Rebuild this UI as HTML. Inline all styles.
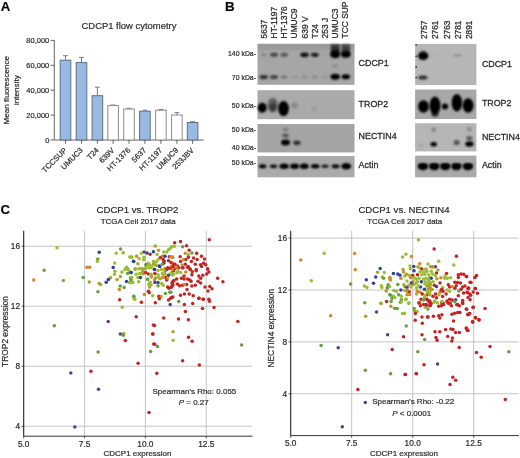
<!DOCTYPE html>
<html><head><meta charset="utf-8"><style>html,body{margin:0;padding:0;background:#fff;width:520px;height:458px;overflow:hidden}svg{display:block;will-change:transform}text{font-family:'Liberation Sans',sans-serif;stroke:#2a2a2a;stroke-width:0.2px}</style></head>
<body><svg width="520" height="458" viewBox="0 0 520 458">
<rect width="520" height="458" fill="#fff"/>
<text x="0.8" y="10.8" font-size="13.2" text-anchor="start" font-weight="bold" fill="#000" >A</text>
<text x="81.5" y="28.8" font-size="9.45" text-anchor="start" font-weight="normal" fill="#2a2a2a" >CDCP1 flow cytometry</text>
<line x1="54.3" y1="40.3" x2="54.3" y2="140.0" stroke="#555" stroke-width="0.9"/>
<line x1="54.3" y1="140.0" x2="203.8" y2="140.0" stroke="#555" stroke-width="0.9"/>
<line x1="50.6" y1="140.00" x2="54.3" y2="140.00" stroke="#555" stroke-width="0.9"/>
<text x="49.3" y="142.7" font-size="7.5" text-anchor="end" font-weight="normal" fill="#2a2a2a" >0</text>
<line x1="50.6" y1="115.10" x2="54.3" y2="115.10" stroke="#555" stroke-width="0.9"/>
<text x="49.3" y="117.8" font-size="7.5" text-anchor="end" font-weight="normal" fill="#2a2a2a" >20,000</text>
<line x1="50.6" y1="90.20" x2="54.3" y2="90.20" stroke="#555" stroke-width="0.9"/>
<text x="49.3" y="92.9" font-size="7.5" text-anchor="end" font-weight="normal" fill="#2a2a2a" >40,000</text>
<line x1="50.6" y1="65.30" x2="54.3" y2="65.30" stroke="#555" stroke-width="0.9"/>
<text x="49.3" y="68.00000000000001" font-size="7.5" text-anchor="end" font-weight="normal" fill="#2a2a2a" >60,000</text>
<line x1="50.6" y1="40.40" x2="54.3" y2="40.40" stroke="#555" stroke-width="0.9"/>
<text x="49.3" y="43.10000000000001" font-size="7.5" text-anchor="end" font-weight="normal" fill="#2a2a2a" >80,000</text>
<line x1="65.5" y1="55.7" x2="65.5" y2="60.2" stroke="#5d6f85" stroke-width="0.9"/>
<line x1="63.1" y1="55.7" x2="67.9" y2="55.7" stroke="#5d6f85" stroke-width="0.9"/>
<rect x="60.20" y="60.2" width="10.6" height="79.80" fill="#98b9e4" stroke="#5d6f85" stroke-width="1"/>
<line x1="65.5" y1="140.0" x2="65.5" y2="143.8" stroke="#555" stroke-width="0.9"/>
<text x="0" y="0" font-size="7.7" text-anchor="end" fill="#2a2a2a" transform="translate(67.4,150.8) rotate(-45)">TCCSUP</text>
<line x1="81.5" y1="57.4" x2="81.5" y2="62.6" stroke="#5d6f85" stroke-width="0.9"/>
<line x1="79.1" y1="57.4" x2="83.9" y2="57.4" stroke="#5d6f85" stroke-width="0.9"/>
<rect x="76.20" y="62.6" width="10.6" height="77.40" fill="#98b9e4" stroke="#5d6f85" stroke-width="1"/>
<line x1="81.5" y1="140.0" x2="81.5" y2="143.8" stroke="#555" stroke-width="0.9"/>
<text x="0" y="0" font-size="7.7" text-anchor="end" fill="#2a2a2a" transform="translate(83.4,150.8) rotate(-45)">UMUC3</text>
<line x1="97.4" y1="87.2" x2="97.4" y2="95.7" stroke="#5d6f85" stroke-width="0.9"/>
<line x1="95.0" y1="87.2" x2="99.80000000000001" y2="87.2" stroke="#5d6f85" stroke-width="0.9"/>
<rect x="92.10" y="95.7" width="10.6" height="44.30" fill="#98b9e4" stroke="#5d6f85" stroke-width="1"/>
<line x1="97.4" y1="140.0" x2="97.4" y2="143.8" stroke="#555" stroke-width="0.9"/>
<text x="0" y="0" font-size="7.7" text-anchor="end" fill="#2a2a2a" transform="translate(99.30000000000001,150.8) rotate(-45)">T24</text>
<line x1="113.1" y1="105.0" x2="113.1" y2="105.6" stroke="#5d6f85" stroke-width="0.9"/>
<line x1="110.69999999999999" y1="105.0" x2="115.5" y2="105.0" stroke="#5d6f85" stroke-width="0.9"/>
<rect x="107.80" y="105.6" width="10.6" height="34.40" fill="#ffffff" stroke="#8a8a8a" stroke-width="1"/>
<line x1="113.1" y1="140.0" x2="113.1" y2="143.8" stroke="#555" stroke-width="0.9"/>
<text x="0" y="0" font-size="7.7" text-anchor="end" fill="#2a2a2a" transform="translate(115.0,150.8) rotate(-45)">639V</text>
<line x1="129.0" y1="108.3" x2="129.0" y2="109.0" stroke="#5d6f85" stroke-width="0.9"/>
<line x1="126.6" y1="108.3" x2="131.4" y2="108.3" stroke="#5d6f85" stroke-width="0.9"/>
<rect x="123.70" y="109.0" width="10.6" height="31.00" fill="#ffffff" stroke="#8a8a8a" stroke-width="1"/>
<line x1="129.0" y1="140.0" x2="129.0" y2="143.8" stroke="#555" stroke-width="0.9"/>
<text x="0" y="0" font-size="7.7" text-anchor="end" fill="#2a2a2a" transform="translate(130.9,150.8) rotate(-45)">HT-1376</text>
<line x1="144.9" y1="110.2" x2="144.9" y2="111.2" stroke="#5d6f85" stroke-width="0.9"/>
<line x1="142.5" y1="110.2" x2="147.3" y2="110.2" stroke="#5d6f85" stroke-width="0.9"/>
<rect x="139.60" y="111.2" width="10.6" height="28.80" fill="#98b9e4" stroke="#5d6f85" stroke-width="1"/>
<line x1="144.9" y1="140.0" x2="144.9" y2="143.8" stroke="#555" stroke-width="0.9"/>
<text x="0" y="0" font-size="7.7" text-anchor="end" fill="#2a2a2a" transform="translate(146.8,150.8) rotate(-45)">5637</text>
<line x1="160.9" y1="109.5" x2="160.9" y2="110.2" stroke="#5d6f85" stroke-width="0.9"/>
<line x1="158.5" y1="109.5" x2="163.3" y2="109.5" stroke="#5d6f85" stroke-width="0.9"/>
<rect x="155.60" y="110.2" width="10.6" height="29.80" fill="#ffffff" stroke="#8a8a8a" stroke-width="1"/>
<line x1="160.9" y1="140.0" x2="160.9" y2="143.8" stroke="#555" stroke-width="0.9"/>
<text x="0" y="0" font-size="7.7" text-anchor="end" fill="#2a2a2a" transform="translate(162.8,150.8) rotate(-45)">HT-1197</text>
<line x1="176.9" y1="112.6" x2="176.9" y2="115.0" stroke="#5d6f85" stroke-width="0.9"/>
<line x1="174.5" y1="112.6" x2="179.3" y2="112.6" stroke="#5d6f85" stroke-width="0.9"/>
<rect x="171.60" y="115.0" width="10.6" height="25.00" fill="#ffffff" stroke="#8a8a8a" stroke-width="1"/>
<line x1="176.9" y1="140.0" x2="176.9" y2="143.8" stroke="#555" stroke-width="0.9"/>
<text x="0" y="0" font-size="7.7" text-anchor="end" fill="#2a2a2a" transform="translate(178.8,150.8) rotate(-45)">UMUC9</text>
<line x1="192.6" y1="121.8" x2="192.6" y2="122.5" stroke="#5d6f85" stroke-width="0.9"/>
<line x1="190.2" y1="121.8" x2="195.0" y2="121.8" stroke="#5d6f85" stroke-width="0.9"/>
<rect x="187.30" y="122.5" width="10.6" height="17.50" fill="#98b9e4" stroke="#5d6f85" stroke-width="1"/>
<line x1="192.6" y1="140.0" x2="192.6" y2="143.8" stroke="#555" stroke-width="0.9"/>
<text x="0" y="0" font-size="7.7" text-anchor="end" fill="#2a2a2a" transform="translate(194.5,150.8) rotate(-45)">253JBV</text>
<text x="0" y="0" font-size="8.1" text-anchor="middle" fill="#2a2a2a" transform="translate(8.9,90.2) rotate(-90)">Mean fluorescence</text>
<text x="0" y="0" font-size="8.1" text-anchor="middle" fill="#2a2a2a" transform="translate(18.6,90.1) rotate(-90)">intensity</text>
<text x="225.0" y="10.6" font-size="13.4" text-anchor="start" font-weight="bold" fill="#000" >B</text>
<text x="0" y="0" font-size="8.4" fill="#2a2a2a" style="stroke-width:0.28px" transform="translate(266.8,38.4) rotate(-90)">5637</text>
<text x="0" y="0" font-size="8.4" fill="#2a2a2a" style="stroke-width:0.28px" transform="translate(277.0,38.4) rotate(-90)">HT-1197</text>
<text x="0" y="0" font-size="8.4" fill="#2a2a2a" style="stroke-width:0.28px" transform="translate(287.2,38.4) rotate(-90)">HT-1376</text>
<text x="0" y="0" font-size="8.4" fill="#2a2a2a" style="stroke-width:0.28px" transform="translate(297.40000000000003,38.4) rotate(-90)">UMUC9</text>
<text x="0" y="0" font-size="8.4" fill="#2a2a2a" style="stroke-width:0.28px" transform="translate(307.6,38.4) rotate(-90)">639 V</text>
<text x="0" y="0" font-size="8.4" fill="#2a2a2a" style="stroke-width:0.28px" transform="translate(317.8,38.4) rotate(-90)">T24</text>
<text x="0" y="0" font-size="8.4" fill="#2a2a2a" style="stroke-width:0.28px" transform="translate(328.0,38.4) rotate(-90)">253 J</text>
<text x="0" y="0" font-size="8.4" fill="#2a2a2a" style="stroke-width:0.28px" transform="translate(338.2,38.4) rotate(-90)">UMUC3</text>
<text x="0" y="0" font-size="8.4" fill="#2a2a2a" style="stroke-width:0.28px" transform="translate(348.4,38.4) rotate(-90)">TCC SUP</text>
<text x="0" y="0" font-size="8.3" fill="#2a2a2a" style="stroke-width:0.28px" transform="translate(426.79999999999995,39) rotate(-90)">2757</text>
<text x="0" y="0" font-size="8.3" fill="#2a2a2a" style="stroke-width:0.28px" transform="translate(438.4,39) rotate(-90)">2761</text>
<text x="0" y="0" font-size="8.3" fill="#2a2a2a" style="stroke-width:0.28px" transform="translate(449.59999999999997,39) rotate(-90)">2763</text>
<text x="0" y="0" font-size="8.3" fill="#2a2a2a" style="stroke-width:0.28px" transform="translate(460.79999999999995,39) rotate(-90)">2781</text>
<text x="0" y="0" font-size="8.3" fill="#2a2a2a" style="stroke-width:0.28px" transform="translate(472.0,39) rotate(-90)">2891</text>
<rect x="257.5" y="43.8" width="97.0" height="41.00" fill="#a6a6a6"/>
<rect x="257.5" y="90.2" width="97.0" height="29.00" fill="#aaaaaa"/>
<rect x="257.5" y="124.0" width="97.0" height="28.40" fill="#a4a4a4"/>
<rect x="257.5" y="156.0" width="97.0" height="21.30" fill="#aaaaaa"/>
<rect x="415.1" y="43.9" width="61.3" height="41.20" fill="#b6b6b6"/>
<rect x="415.1" y="89.5" width="61.3" height="29.50" fill="#a8a8a8"/>
<rect x="415.1" y="123.2" width="61.3" height="28.20" fill="#b6b6b6"/>
<rect x="415.1" y="155.6" width="61.3" height="21.70" fill="#a9a9a9"/>
<text x="256.0" y="56.3" font-size="6.9" text-anchor="end" font-weight="normal" fill="#2a2a2a" >140 kDa-</text>
<text x="256.0" y="80.3" font-size="6.9" text-anchor="end" font-weight="normal" fill="#2a2a2a" >70 kDa-</text>
<text x="256.0" y="108.1" font-size="6.9" text-anchor="end" font-weight="normal" fill="#2a2a2a" >50 kDa-</text>
<text x="256.0" y="132.2" font-size="6.9" text-anchor="end" font-weight="normal" fill="#2a2a2a" >50 kDa-</text>
<text x="256.0" y="150.1" font-size="6.9" text-anchor="end" font-weight="normal" fill="#2a2a2a" >40 kDa-</text>
<text x="256.0" y="164.9" font-size="6.9" text-anchor="end" font-weight="normal" fill="#2a2a2a" >50 kDa-</text>
<text x="358.6" y="66.2" font-size="8.9" text-anchor="start" font-weight="normal" fill="#2a2a2a" style="stroke-width:0.28px">CDCP1</text>
<text x="358.6" y="107.3" font-size="8.9" text-anchor="start" font-weight="normal" fill="#2a2a2a" style="stroke-width:0.28px">TROP2</text>
<text x="358.6" y="138.8" font-size="8.9" text-anchor="start" font-weight="normal" fill="#2a2a2a" style="stroke-width:0.28px">NECTIN4</text>
<text x="358.6" y="168.4" font-size="8.9" text-anchor="start" font-weight="normal" fill="#2a2a2a" style="stroke-width:0.28px">Actin</text>
<text x="481.9" y="67.39999999999999" font-size="8.9" text-anchor="start" font-weight="normal" fill="#2a2a2a" style="stroke-width:0.28px">CDCP1</text>
<text x="481.9" y="106.3" font-size="8.9" text-anchor="start" font-weight="normal" fill="#2a2a2a" style="stroke-width:0.28px">TROP2</text>
<text x="481.9" y="140.10000000000002" font-size="8.9" text-anchor="start" font-weight="normal" fill="#2a2a2a" style="stroke-width:0.28px">NECTIN4</text>
<text x="481.9" y="167.9" font-size="8.9" text-anchor="start" font-weight="normal" fill="#2a2a2a" style="stroke-width:0.28px">Actin</text>
<text x="0.5" y="213.7" font-size="13.2" text-anchor="start" font-weight="bold" fill="#000" >C</text>
<line x1="23.7" y1="246.20" x2="252.0" y2="246.20" stroke="#bdbdbd" stroke-width="0.9"/>
<line x1="21.5" y1="246.20" x2="23.7" y2="246.20" stroke="#444" stroke-width="0.9"/>
<text x="20.099999999999998" y="249.1" font-size="8.3" text-anchor="end" font-weight="normal" fill="#2a2a2a" >16</text>
<line x1="23.7" y1="306.20" x2="252.0" y2="306.20" stroke="#bdbdbd" stroke-width="0.9"/>
<line x1="21.5" y1="306.20" x2="23.7" y2="306.20" stroke="#444" stroke-width="0.9"/>
<text x="20.099999999999998" y="309.09999999999997" font-size="8.3" text-anchor="end" font-weight="normal" fill="#2a2a2a" >12</text>
<line x1="23.7" y1="366.20" x2="252.0" y2="366.20" stroke="#bdbdbd" stroke-width="0.9"/>
<line x1="21.5" y1="366.20" x2="23.7" y2="366.20" stroke="#444" stroke-width="0.9"/>
<text x="20.099999999999998" y="369.09999999999997" font-size="8.3" text-anchor="end" font-weight="normal" fill="#2a2a2a" >8</text>
<line x1="23.7" y1="426.20" x2="252.0" y2="426.20" stroke="#bdbdbd" stroke-width="0.9"/>
<line x1="21.5" y1="426.20" x2="23.7" y2="426.20" stroke="#444" stroke-width="0.9"/>
<text x="20.099999999999998" y="429.09999999999997" font-size="8.3" text-anchor="end" font-weight="normal" fill="#2a2a2a" >4</text>
<line x1="23.70" y1="436.2" x2="23.70" y2="438.4" stroke="#444" stroke-width="0.9"/>
<text x="23.7" y="446.5" font-size="8.3" text-anchor="middle" font-weight="normal" fill="#2a2a2a" >5.0</text>
<line x1="84.55" y1="230.8" x2="84.55" y2="436.2" stroke="#bdbdbd" stroke-width="0.9"/>
<line x1="84.55" y1="436.2" x2="84.55" y2="438.4" stroke="#444" stroke-width="0.9"/>
<text x="84.55" y="446.5" font-size="8.3" text-anchor="middle" font-weight="normal" fill="#2a2a2a" >7.5</text>
<line x1="145.40" y1="230.8" x2="145.40" y2="436.2" stroke="#bdbdbd" stroke-width="0.9"/>
<line x1="145.40" y1="436.2" x2="145.40" y2="438.4" stroke="#444" stroke-width="0.9"/>
<text x="145.4" y="446.5" font-size="8.3" text-anchor="middle" font-weight="normal" fill="#2a2a2a" >10.0</text>
<line x1="206.25" y1="230.8" x2="206.25" y2="436.2" stroke="#bdbdbd" stroke-width="0.9"/>
<line x1="206.25" y1="436.2" x2="206.25" y2="438.4" stroke="#444" stroke-width="0.9"/>
<text x="206.25" y="446.5" font-size="8.3" text-anchor="middle" font-weight="normal" fill="#2a2a2a" >12.5</text>
<line x1="23.7" y1="230.8" x2="23.7" y2="436.2" stroke="#222" stroke-width="1.1"/>
<line x1="23.7" y1="436.2" x2="252.5" y2="436.2" stroke="#333" stroke-width="1.0"/>
<text x="137.5" y="213.3" font-size="9.6" text-anchor="middle" font-weight="normal" fill="#2a2a2a" >CDCP1 vs. TROP2</text>
<text x="138.2" y="224.4" font-size="7.95" text-anchor="middle" font-weight="normal" fill="#2a2a2a" >TCGA Cell 2017 data</text>
<text x="137.5" y="456.3" font-size="8.0" text-anchor="middle" font-weight="normal" fill="#2a2a2a" >CDCP1 expression</text>
<text x="0" y="0" font-size="8.4" text-anchor="middle" fill="#2a2a2a" transform="translate(8.2,331.5) rotate(-90)">TROP2 expression</text>
<line x1="290.7" y1="238.10" x2="518.5" y2="238.10" stroke="#bdbdbd" stroke-width="0.9"/>
<line x1="288.5" y1="238.10" x2="290.7" y2="238.10" stroke="#444" stroke-width="0.9"/>
<text x="287.09999999999997" y="241.0" font-size="8.3" text-anchor="end" font-weight="normal" fill="#2a2a2a" >16</text>
<line x1="290.7" y1="289.98" x2="518.5" y2="289.98" stroke="#bdbdbd" stroke-width="0.9"/>
<line x1="288.5" y1="289.98" x2="290.7" y2="289.98" stroke="#444" stroke-width="0.9"/>
<text x="287.09999999999997" y="292.88" font-size="8.3" text-anchor="end" font-weight="normal" fill="#2a2a2a" >12</text>
<line x1="290.7" y1="341.86" x2="518.5" y2="341.86" stroke="#bdbdbd" stroke-width="0.9"/>
<line x1="288.5" y1="341.86" x2="290.7" y2="341.86" stroke="#444" stroke-width="0.9"/>
<text x="287.09999999999997" y="344.76" font-size="8.3" text-anchor="end" font-weight="normal" fill="#2a2a2a" >8</text>
<line x1="290.7" y1="393.74" x2="518.5" y2="393.74" stroke="#bdbdbd" stroke-width="0.9"/>
<line x1="288.5" y1="393.74" x2="290.7" y2="393.74" stroke="#444" stroke-width="0.9"/>
<text x="287.09999999999997" y="396.64" font-size="8.3" text-anchor="end" font-weight="normal" fill="#2a2a2a" >4</text>
<line x1="290.70" y1="435.6" x2="290.70" y2="437.8" stroke="#444" stroke-width="0.9"/>
<text x="290.7" y="445.90000000000003" font-size="8.3" text-anchor="middle" font-weight="normal" fill="#2a2a2a" >5.0</text>
<line x1="351.70" y1="230.8" x2="351.70" y2="435.6" stroke="#bdbdbd" stroke-width="0.9"/>
<line x1="351.70" y1="435.6" x2="351.70" y2="437.8" stroke="#444" stroke-width="0.9"/>
<text x="351.7" y="445.90000000000003" font-size="8.3" text-anchor="middle" font-weight="normal" fill="#2a2a2a" >7.5</text>
<line x1="412.70" y1="230.8" x2="412.70" y2="435.6" stroke="#bdbdbd" stroke-width="0.9"/>
<line x1="412.70" y1="435.6" x2="412.70" y2="437.8" stroke="#444" stroke-width="0.9"/>
<text x="412.7" y="445.90000000000003" font-size="8.3" text-anchor="middle" font-weight="normal" fill="#2a2a2a" >10.0</text>
<line x1="473.70" y1="230.8" x2="473.70" y2="435.6" stroke="#bdbdbd" stroke-width="0.9"/>
<line x1="473.70" y1="435.6" x2="473.70" y2="437.8" stroke="#444" stroke-width="0.9"/>
<text x="473.7" y="445.90000000000003" font-size="8.3" text-anchor="middle" font-weight="normal" fill="#2a2a2a" >12.5</text>
<line x1="290.7" y1="230.8" x2="290.7" y2="435.6" stroke="#222" stroke-width="1.1"/>
<line x1="290.7" y1="435.6" x2="519.0" y2="435.6" stroke="#333" stroke-width="1.0"/>
<text x="404.0" y="213.3" font-size="9.6" text-anchor="middle" font-weight="normal" fill="#2a2a2a" >CDCP1 vs. NECTIN4</text>
<text x="404.7" y="224.4" font-size="7.95" text-anchor="middle" font-weight="normal" fill="#2a2a2a" >TCGA Cell 2017 data</text>
<text x="404.0" y="456.3" font-size="8.0" text-anchor="middle" font-weight="normal" fill="#2a2a2a" >CDCP1 expression</text>
<text x="0" y="0" font-size="8.4" text-anchor="middle" fill="#2a2a2a" transform="translate(274.0,328.2) rotate(-90)">NECTIN4 expression</text>
<text x="194.4" y="394.0" font-size="8.0" text-anchor="middle" font-weight="normal" fill="#2a2a2a" >Spearman's Rho: 0.055</text>
<text x="193.7" y="404.8" font-size="8.0" text-anchor="middle" fill="#2a2a2a"><tspan font-style="italic">P</tspan> = 0.27</text>
<text x="413.2" y="403.6" font-size="8.0" text-anchor="middle" font-weight="normal" fill="#2a2a2a" >Spearman's Rho: -0.22</text>
<text x="411.7" y="415.5" font-size="8.0" text-anchor="middle" fill="#2a2a2a"><tspan font-style="italic">P</tspan> &lt; 0.0001</text>
<defs><filter id="bl" x="-50%" y="-50%" width="200%" height="200%"><feGaussianBlur stdDeviation="0.9"/></filter><filter id="bl2" x="-50%" y="-50%" width="200%" height="200%"><feGaussianBlur stdDeviation="1.6"/></filter><linearGradient id="smear" x1="0" y1="0" x2="0" y2="1"><stop offset="0" stop-color="#000" stop-opacity="0.55"/><stop offset="1" stop-color="#000" stop-opacity="0.9"/></linearGradient></defs>
<rect x="257.5" y="43.8" width="97" height="6" fill="#000" opacity="0.07" filter="url(#bl)"/>
<ellipse cx="263.7" cy="54.8" rx="3.25" ry="1.25" fill="#000" fill-opacity="0.2" filter="url(#bl)"/>
<ellipse cx="274.0" cy="54.8" rx="4.00" ry="2.25" fill="#000" fill-opacity="0.55" filter="url(#bl)"/>
<ellipse cx="284.2" cy="54.8" rx="3.75" ry="2.00" fill="#000" fill-opacity="0.48" filter="url(#bl)"/>
<ellipse cx="304.5" cy="54.8" rx="4.25" ry="2.40" fill="#000" fill-opacity="0.9" filter="url(#bl)"/>
<ellipse cx="314.8" cy="54.8" rx="4.00" ry="2.15" fill="#000" fill-opacity="0.85" filter="url(#bl)"/>
<ellipse cx="325.0" cy="54.8" rx="2.50" ry="1.00" fill="#000" fill-opacity="0.08" filter="url(#bl)"/>
<rect x="330.8" y="44.2" width="8.8" height="10" fill="url(#smear)" filter="url(#bl)" opacity="1"/>
<rect x="341.6" y="44.2" width="8.4" height="10" fill="url(#smear)" filter="url(#bl)" opacity="0.85"/>
<ellipse cx="335.2" cy="54.6" rx="5.00" ry="3.75" fill="#000" fill-opacity="1.0" filter="url(#bl)"/>
<ellipse cx="345.8" cy="54.6" rx="4.75" ry="3.25" fill="#000" fill-opacity="1.0" filter="url(#bl)"/>
<ellipse cx="335.2" cy="66.0" rx="3.00" ry="1.25" fill="#000" fill-opacity="0.22" filter="url(#bl)"/>
<ellipse cx="263.7" cy="77.1" rx="4.25" ry="2.15" fill="#000" fill-opacity="0.72" filter="url(#bl)"/>
<ellipse cx="274.0" cy="77.1" rx="4.25" ry="2.10" fill="#000" fill-opacity="0.6" filter="url(#bl)"/>
<ellipse cx="284.2" cy="77.1" rx="3.25" ry="1.50" fill="#000" fill-opacity="0.3" filter="url(#bl)"/>
<ellipse cx="294.6" cy="77.1" rx="3.00" ry="1.25" fill="#000" fill-opacity="0.12" filter="url(#bl)"/>
<ellipse cx="304.5" cy="77.1" rx="3.00" ry="1.25" fill="#000" fill-opacity="0.18" filter="url(#bl)"/>
<ellipse cx="314.8" cy="77.1" rx="3.00" ry="1.25" fill="#000" fill-opacity="0.22" filter="url(#bl)"/>
<ellipse cx="325.0" cy="77.1" rx="3.00" ry="1.25" fill="#000" fill-opacity="0.14" filter="url(#bl)"/>
<ellipse cx="335.2" cy="76.8" rx="4.75" ry="3.00" fill="#000" fill-opacity="1.0" filter="url(#bl)"/>
<ellipse cx="345.8" cy="76.8" rx="4.25" ry="2.50" fill="#000" fill-opacity="1.0" filter="url(#bl)"/>
<ellipse cx="262.2" cy="107.8" rx="4.50" ry="5.00" fill="#000" fill-opacity="1.0" filter="url(#bl)"/>
<ellipse cx="272.8" cy="105.2" rx="5.0" ry="7.2" fill="#000" fill-opacity="0.5" filter="url(#bl2)"/>
<ellipse cx="272.8" cy="107.5" rx="3.25" ry="3.75" fill="#000" fill-opacity="0.35" filter="url(#bl)"/>
<ellipse cx="283.5" cy="108.6" rx="5.40" ry="7.50" fill="#000" fill-opacity="1.0" filter="url(#bl)"/>
<ellipse cx="294.6" cy="105.5" rx="3.50" ry="3.00" fill="#000" fill-opacity="0.2" filter="url(#bl)"/>
<ellipse cx="314.2" cy="108.9" rx="2.50" ry="2.00" fill="#000" fill-opacity="0.1" filter="url(#bl)"/>
<ellipse cx="285.5" cy="142.6" rx="4.50" ry="3.00" fill="#000" fill-opacity="1.0" filter="url(#bl)"/>
<ellipse cx="285.5" cy="135.6" rx="3.25" ry="2.00" fill="#000" fill-opacity="0.5" filter="url(#bl)"/>
<ellipse cx="285.5" cy="129.4" rx="3.00" ry="1.75" fill="#000" fill-opacity="0.25" filter="url(#bl)"/>
<ellipse cx="297.0" cy="142.8" rx="3.60" ry="2.30" fill="#000" fill-opacity="0.72" filter="url(#bl)"/>
<ellipse cx="262.6" cy="166.2" rx="3.75" ry="2.00" fill="#000" fill-opacity="1" filter="url(#bl)"/>
<ellipse cx="273.5" cy="166.2" rx="3.75" ry="1.80" fill="#000" fill-opacity="0.95" filter="url(#bl)"/>
<ellipse cx="284.1" cy="166.2" rx="4.75" ry="2.75" fill="#000" fill-opacity="1" filter="url(#bl)"/>
<ellipse cx="294.6" cy="166.2" rx="4.50" ry="2.75" fill="#000" fill-opacity="1" filter="url(#bl)"/>
<ellipse cx="304.2" cy="166.2" rx="4.50" ry="2.75" fill="#000" fill-opacity="1" filter="url(#bl)"/>
<ellipse cx="315.2" cy="166.2" rx="4.25" ry="2.25" fill="#000" fill-opacity="1" filter="url(#bl)"/>
<ellipse cx="325.0" cy="166.2" rx="3.75" ry="1.70" fill="#000" fill-opacity="0.85" filter="url(#bl)"/>
<ellipse cx="335.6" cy="166.2" rx="4.00" ry="2.00" fill="#000" fill-opacity="0.95" filter="url(#bl)"/>
<ellipse cx="346.2" cy="166.2" rx="5.00" ry="3.25" fill="#000" fill-opacity="1" filter="url(#bl)"/>
<ellipse cx="423.2" cy="56.0" rx="5.25" ry="4.00" fill="#000" fill-opacity="1.0" filter="url(#bl)"/>
<ellipse cx="423.2" cy="53" rx="3.50" ry="2.50" fill="#000" fill-opacity="0.4" filter="url(#bl)"/>
<ellipse cx="422.8" cy="77.5" rx="4.75" ry="2.10" fill="#000" fill-opacity="0.75" filter="url(#bl)"/>
<ellipse cx="457.5" cy="55.6" rx="4.50" ry="1.30" fill="#000" fill-opacity="0.2" filter="url(#bl)"/>
<ellipse cx="434.6" cy="55.6" rx="3.00" ry="1.00" fill="#000" fill-opacity="0.06" filter="url(#bl)"/>
<ellipse cx="416.2" cy="45" rx="0.90" ry="0.80" fill="#000" fill-opacity="0.8"/>
<ellipse cx="416.2" cy="56.3" rx="0.90" ry="0.80" fill="#000" fill-opacity="0.8"/>
<ellipse cx="416.2" cy="66.9" rx="0.90" ry="0.80" fill="#000" fill-opacity="0.8"/>
<ellipse cx="416.2" cy="77.5" rx="0.90" ry="0.80" fill="#000" fill-opacity="0.8"/>
<ellipse cx="423.5" cy="106.5" rx="5.40" ry="6.25" fill="#000" fill-opacity="1.0" filter="url(#bl)"/>
<ellipse cx="435.0" cy="105.6" rx="5.50" ry="9.00" fill="#000" fill-opacity="1.0" filter="url(#bl)"/>
<ellipse cx="435.0" cy="114.5" rx="3.50" ry="2.25" fill="#000" fill-opacity="0.7" filter="url(#bl)"/>
<ellipse cx="445.0" cy="106.5" rx="3.10" ry="3.00" fill="#000" fill-opacity="1.0" filter="url(#bl)"/>
<ellipse cx="456.9" cy="102.8" rx="5.30" ry="8.75" fill="#000" fill-opacity="1.0" filter="url(#bl)"/>
<ellipse cx="468.1" cy="105.6" rx="5.50" ry="7.25" fill="#000" fill-opacity="1.0" filter="url(#bl)"/>
<ellipse cx="420.9" cy="144.9" rx="3.00" ry="1.50" fill="#000" fill-opacity="0.1" filter="url(#bl)"/>
<ellipse cx="433.7" cy="144.2" rx="3.25" ry="2.25" fill="#000" fill-opacity="1.0" filter="url(#bl)"/>
<ellipse cx="433.7" cy="129.8" rx="2.50" ry="2.50" fill="#000" fill-opacity="0.25" filter="url(#bl)"/>
<ellipse cx="456.7" cy="142.5" rx="3.00" ry="2.60" fill="#000" fill-opacity="0.55" filter="url(#bl)"/>
<ellipse cx="469.4" cy="144.0" rx="4.20" ry="2.80" fill="#000" fill-opacity="1.0" filter="url(#bl)"/>
<ellipse cx="469.4" cy="138.3" rx="3.25" ry="2.25" fill="#000" fill-opacity="0.5" filter="url(#bl)"/>
<ellipse cx="469.4" cy="129.2" rx="2.50" ry="2.50" fill="#000" fill-opacity="0.22" filter="url(#bl)"/>
<ellipse cx="423.0" cy="167.0" rx="4.90" ry="3.20" fill="#000" fill-opacity="1.0" filter="url(#bl)"/>
<rect x="418.20" y="163.6" width="9.6" height="3.6" rx="1.6" fill="#000" filter="url(#bl)"/>
<ellipse cx="434.2" cy="167.0" rx="4.90" ry="3.20" fill="#000" fill-opacity="1.0" filter="url(#bl)"/>
<rect x="429.40" y="163.6" width="9.6" height="3.6" rx="1.6" fill="#000" filter="url(#bl)"/>
<ellipse cx="445.2" cy="167.0" rx="4.90" ry="3.20" fill="#000" fill-opacity="1.0" filter="url(#bl)"/>
<rect x="440.40" y="163.6" width="9.6" height="3.6" rx="1.6" fill="#000" filter="url(#bl)"/>
<ellipse cx="456.4" cy="167.0" rx="4.90" ry="3.20" fill="#000" fill-opacity="1.0" filter="url(#bl)"/>
<rect x="451.60" y="163.6" width="9.6" height="3.6" rx="1.6" fill="#000" filter="url(#bl)"/>
<ellipse cx="467.9" cy="167.0" rx="4.90" ry="3.20" fill="#000" fill-opacity="1.0" filter="url(#bl)"/>
<rect x="463.10" y="163.6" width="9.6" height="3.6" rx="1.6" fill="#000" filter="url(#bl)"/>
<circle cx="57" cy="247.8" r="1.75" fill="#9cbc34"/>
<circle cx="44.2" cy="270.3" r="1.75" fill="#62a040"/>
<circle cx="33.7" cy="280.1" r="1.75" fill="#d08a28"/>
<circle cx="63.4" cy="280.5" r="1.75" fill="#d08a28"/>
<circle cx="83.2" cy="277.4" r="1.75" fill="#62a040"/>
<circle cx="87" cy="267.3" r="1.75" fill="#d08a28"/>
<circle cx="89.7" cy="267.3" r="1.75" fill="#d08a28"/>
<circle cx="89.3" cy="282.1" r="1.75" fill="#aaa22a"/>
<circle cx="54.3" cy="325.7" r="1.75" fill="#62a040"/>
<circle cx="70.8" cy="372.9" r="1.75" fill="#5c3c8a"/>
<circle cx="90.9" cy="371.3" r="1.75" fill="#c62222"/>
<circle cx="108.2" cy="321.4" r="1.75" fill="#5c3c8a"/>
<circle cx="136.2" cy="316.8" r="1.75" fill="#c62222"/>
<circle cx="120.3" cy="333.9" r="1.75" fill="#5c3c8a"/>
<circle cx="123.7" cy="333.6" r="1.75" fill="#aaa22a"/>
<circle cx="123.3" cy="335.2" r="1.75" fill="#62a040"/>
<circle cx="125.3" cy="340.6" r="1.75" fill="#c62222"/>
<circle cx="98.1" cy="352" r="1.75" fill="#62a040"/>
<circle cx="138.1" cy="363.2" r="1.75" fill="#c62222"/>
<circle cx="153.3" cy="325.1" r="1.75" fill="#c62222"/>
<circle cx="152.6" cy="334.1" r="1.75" fill="#c62222"/>
<circle cx="150.6" cy="351.4" r="1.75" fill="#62a040"/>
<circle cx="153.7" cy="344" r="1.75" fill="#c62222"/>
<circle cx="98.5" cy="389.2" r="1.75" fill="#5c3c8a"/>
<circle cx="149" cy="412.6" r="1.75" fill="#c62222"/>
<circle cx="74.8" cy="427.1" r="1.75" fill="#5c3c8a"/>
<circle cx="163.7" cy="318" r="1.75" fill="#c62222"/>
<circle cx="178.5" cy="318.9" r="1.75" fill="#c62222"/>
<circle cx="188.3" cy="319.7" r="1.75" fill="#c62222"/>
<circle cx="154.5" cy="325.4" r="1.75" fill="#c62222"/>
<circle cx="173.1" cy="331.7" r="1.75" fill="#aaa22a"/>
<circle cx="152.9" cy="334" r="1.75" fill="#c62222"/>
<circle cx="188.5" cy="337.2" r="1.75" fill="#c62222"/>
<circle cx="192.1" cy="341.2" r="1.75" fill="#c62222"/>
<circle cx="173.1" cy="340.2" r="1.75" fill="#9cbc34"/>
<circle cx="154.7" cy="344.2" r="1.75" fill="#c62222"/>
<circle cx="157.5" cy="346.5" r="1.75" fill="#62a040"/>
<circle cx="182.6" cy="360.8" r="1.75" fill="#c62222"/>
<circle cx="199.3" cy="364.9" r="1.75" fill="#c62222"/>
<circle cx="156.8" cy="373.3" r="1.75" fill="#c62222"/>
<circle cx="199" cy="298.2" r="1.75" fill="#c62222"/>
<circle cx="203.2" cy="299.3" r="1.75" fill="#c62222"/>
<circle cx="208.8" cy="299.3" r="1.75" fill="#c62222"/>
<circle cx="209.5" cy="301.2" r="1.75" fill="#c62222"/>
<circle cx="202.5" cy="308.4" r="1.75" fill="#c62222"/>
<circle cx="214" cy="307.5" r="1.75" fill="#c62222"/>
<circle cx="237.9" cy="321.5" r="1.75" fill="#c62222"/>
<circle cx="241.6" cy="345.1" r="1.75" fill="#62a040"/>
<circle cx="120.6" cy="248.9" r="1.75" fill="#62a040"/>
<circle cx="99.2" cy="252.2" r="1.75" fill="#2e429c"/>
<circle cx="116.2" cy="253.3" r="1.75" fill="#9cbc34"/>
<circle cx="123.2" cy="252.7" r="1.75" fill="#aaa22a"/>
<circle cx="97.7" cy="259.1" r="1.75" fill="#62a040"/>
<circle cx="97.4" cy="261.2" r="1.75" fill="#9cbc34"/>
<circle cx="129.8" cy="257" r="1.75" fill="#9cbc34"/>
<circle cx="131.8" cy="257" r="1.75" fill="#d08a28"/>
<circle cx="133.7" cy="261.6" r="1.75" fill="#2e429c"/>
<circle cx="114.7" cy="262.9" r="1.75" fill="#9cbc34"/>
<circle cx="113.2" cy="267.5" r="1.75" fill="#2e429c"/>
<circle cx="126.7" cy="267.3" r="1.75" fill="#9cbc34"/>
<circle cx="125" cy="269.5" r="1.75" fill="#9cbc34"/>
<circle cx="128.5" cy="270" r="1.75" fill="#9cbc34"/>
<circle cx="155.3" cy="245.9" r="1.75" fill="#aaa22a"/>
<circle cx="174.6" cy="242.8" r="1.75" fill="#c62222"/>
<circle cx="170.2" cy="248.5" r="1.75" fill="#9cbc34"/>
<circle cx="168.5" cy="249.8" r="1.75" fill="#9cbc34"/>
<circle cx="158.4" cy="250.2" r="1.75" fill="#aaa22a"/>
<circle cx="144" cy="252" r="1.75" fill="#5c3c8a"/>
<circle cx="147" cy="252.9" r="1.75" fill="#2e429c"/>
<circle cx="150.1" cy="254.2" r="1.75" fill="#c62222"/>
<circle cx="153.4" cy="251.8" r="1.75" fill="#2e429c"/>
<circle cx="163.7" cy="252" r="1.75" fill="#9cbc34"/>
<circle cx="166.7" cy="252" r="1.75" fill="#9cbc34"/>
<circle cx="141.4" cy="253.3" r="1.75" fill="#9cbc34"/>
<circle cx="157.1" cy="254.6" r="1.75" fill="#9cbc34"/>
<circle cx="131.3" cy="257.2" r="1.75" fill="#9cbc34"/>
<circle cx="136.6" cy="256.3" r="1.75" fill="#d08a28"/>
<circle cx="139.2" cy="258.8" r="1.75" fill="#9cbc34"/>
<circle cx="144" cy="257.2" r="1.75" fill="#9cbc34"/>
<circle cx="143.5" cy="259.8" r="1.75" fill="#9cbc34"/>
<circle cx="133.5" cy="261.2" r="1.75" fill="#2e429c"/>
<circle cx="162.3" cy="256.3" r="1.75" fill="#d08a28"/>
<circle cx="160.2" cy="257.7" r="1.75" fill="#c62222"/>
<circle cx="165" cy="256.3" r="1.75" fill="#2e429c"/>
<circle cx="169.3" cy="256.8" r="1.75" fill="#c62222"/>
<circle cx="172.4" cy="257.2" r="1.75" fill="#c62222"/>
<circle cx="158" cy="259.8" r="1.75" fill="#9cbc34"/>
<circle cx="153.6" cy="261.2" r="1.75" fill="#9cbc34"/>
<circle cx="148.4" cy="263.3" r="1.75" fill="#9cbc34"/>
<circle cx="150.1" cy="265.1" r="1.75" fill="#9cbc34"/>
<circle cx="137.9" cy="263.8" r="1.75" fill="#aaa22a"/>
<circle cx="146.2" cy="264.7" r="1.75" fill="#2e429c"/>
<circle cx="153.6" cy="264.2" r="1.75" fill="#aaa22a"/>
<circle cx="156.2" cy="265.5" r="1.75" fill="#aaa22a"/>
<circle cx="163.7" cy="263.3" r="1.75" fill="#2e429c"/>
<circle cx="164.1" cy="261.2" r="1.75" fill="#c62222"/>
<circle cx="168.5" cy="260.7" r="1.75" fill="#c62222"/>
<circle cx="159.3" cy="266" r="1.75" fill="#2e429c"/>
<circle cx="171.1" cy="262.5" r="1.75" fill="#c62222"/>
<circle cx="174.1" cy="264.2" r="1.75" fill="#c62222"/>
<circle cx="135.2" cy="268.6" r="1.75" fill="#9cbc34"/>
<circle cx="139.6" cy="268.6" r="1.75" fill="#9cbc34"/>
<circle cx="145.7" cy="268.6" r="1.75" fill="#9cbc34"/>
<circle cx="154.5" cy="269.5" r="1.75" fill="#2e429c"/>
<circle cx="167.6" cy="267.7" r="1.75" fill="#c62222"/>
<circle cx="171.1" cy="268.6" r="1.75" fill="#c62222"/>
<circle cx="165" cy="268.6" r="1.75" fill="#d08a28"/>
<circle cx="151" cy="267.7" r="1.75" fill="#9cbc34"/>
<circle cx="180.5" cy="241.5" r="1.75" fill="#c62222"/>
<circle cx="209.3" cy="239.7" r="1.75" fill="#c62222"/>
<circle cx="171.7" cy="246.7" r="1.75" fill="#9cbc34"/>
<circle cx="174.4" cy="246.3" r="1.75" fill="#9cbc34"/>
<circle cx="182.7" cy="246.7" r="1.75" fill="#62a040"/>
<circle cx="186.6" cy="245.7" r="1.75" fill="#c62222"/>
<circle cx="189.1" cy="250.2" r="1.75" fill="#c62222"/>
<circle cx="185.3" cy="253.3" r="1.75" fill="#d08a28"/>
<circle cx="191.9" cy="252.9" r="1.75" fill="#62a040"/>
<circle cx="188.4" cy="254.6" r="1.75" fill="#9cbc34"/>
<circle cx="196.7" cy="253.3" r="1.75" fill="#c62222"/>
<circle cx="170.9" cy="256.8" r="1.75" fill="#d08a28"/>
<circle cx="172.6" cy="257.2" r="1.75" fill="#d08a28"/>
<circle cx="180.1" cy="256.8" r="1.75" fill="#c62222"/>
<circle cx="188.4" cy="257.2" r="1.75" fill="#c62222"/>
<circle cx="185.7" cy="259.4" r="1.75" fill="#c62222"/>
<circle cx="193.6" cy="258.1" r="1.75" fill="#c62222"/>
<circle cx="197.1" cy="259.4" r="1.75" fill="#c62222"/>
<circle cx="201.5" cy="256.3" r="1.75" fill="#c62222"/>
<circle cx="204.5" cy="259" r="1.75" fill="#c62222"/>
<circle cx="180.5" cy="261.6" r="1.75" fill="#c62222"/>
<circle cx="191.4" cy="261.6" r="1.75" fill="#c62222"/>
<circle cx="183.1" cy="259.8" r="1.75" fill="#aaa22a"/>
<circle cx="174.8" cy="264.2" r="1.75" fill="#c62222"/>
<circle cx="185.3" cy="264.2" r="1.75" fill="#c62222"/>
<circle cx="195.3" cy="264.2" r="1.75" fill="#c62222"/>
<circle cx="200.6" cy="264.7" r="1.75" fill="#c62222"/>
<circle cx="203.7" cy="263.3" r="1.75" fill="#c62222"/>
<circle cx="205.8" cy="264.7" r="1.75" fill="#c62222"/>
<circle cx="207.6" cy="269" r="1.75" fill="#c62222"/>
<circle cx="172.2" cy="266.8" r="1.75" fill="#c62222"/>
<circle cx="177.4" cy="266" r="1.75" fill="#c62222"/>
<circle cx="182.2" cy="267.7" r="1.75" fill="#c62222"/>
<circle cx="188.4" cy="266.8" r="1.75" fill="#c62222"/>
<circle cx="182.2" cy="265.1" r="1.75" fill="#aaa22a"/>
<circle cx="196.2" cy="269.5" r="1.75" fill="#c62222"/>
<circle cx="171.3" cy="266" r="1.75" fill="#d08a28"/>
<circle cx="190.1" cy="269.5" r="1.75" fill="#c62222"/>
<circle cx="114.9" cy="271.2" r="1.75" fill="#9cbc34"/>
<circle cx="114.5" cy="274.3" r="1.75" fill="#9cbc34"/>
<circle cx="121.9" cy="272.1" r="1.75" fill="#9cbc34"/>
<circle cx="125.4" cy="269.1" r="1.75" fill="#9cbc34"/>
<circle cx="127.1" cy="268.2" r="1.75" fill="#9cbc34"/>
<circle cx="127.6" cy="273.4" r="1.75" fill="#62a040"/>
<circle cx="131.1" cy="272.6" r="1.75" fill="#2e429c"/>
<circle cx="110.5" cy="277.8" r="1.75" fill="#aaa22a"/>
<circle cx="108.4" cy="279.5" r="1.75" fill="#2e429c"/>
<circle cx="106.2" cy="282.2" r="1.75" fill="#2e429c"/>
<circle cx="99.2" cy="283.5" r="1.75" fill="#aaa22a"/>
<circle cx="100.5" cy="284.4" r="1.75" fill="#aaa22a"/>
<circle cx="117.1" cy="279.5" r="1.75" fill="#aaa22a"/>
<circle cx="120.4" cy="276.5" r="1.75" fill="#aaa22a"/>
<circle cx="126.5" cy="281.6" r="1.75" fill="#2e429c"/>
<circle cx="130.6" cy="277.8" r="1.75" fill="#62a040"/>
<circle cx="131.1" cy="280" r="1.75" fill="#9cbc34"/>
<circle cx="129.3" cy="282.6" r="1.75" fill="#9cbc34"/>
<circle cx="132.8" cy="282.6" r="1.75" fill="#9cbc34"/>
<circle cx="120.2" cy="285.9" r="1.75" fill="#62a040"/>
<circle cx="124.1" cy="287.4" r="1.75" fill="#62a040"/>
<circle cx="119.3" cy="289.4" r="1.75" fill="#d08a28"/>
<circle cx="97.9" cy="291.8" r="1.75" fill="#62a040"/>
<circle cx="119.7" cy="299.7" r="1.75" fill="#c62222"/>
<circle cx="133.7" cy="296.6" r="1.75" fill="#62a040"/>
<circle cx="134.1" cy="298.8" r="1.75" fill="#9cbc34"/>
<circle cx="135.2" cy="269.5" r="1.75" fill="#9cbc34"/>
<circle cx="138.7" cy="269.1" r="1.75" fill="#9cbc34"/>
<circle cx="142.2" cy="268.6" r="1.75" fill="#9cbc34"/>
<circle cx="145.7" cy="267.3" r="1.75" fill="#9cbc34"/>
<circle cx="149.2" cy="267.7" r="1.75" fill="#9cbc34"/>
<circle cx="151.9" cy="266.9" r="1.75" fill="#9cbc34"/>
<circle cx="154.5" cy="269.5" r="1.75" fill="#2e429c"/>
<circle cx="159.7" cy="266.4" r="1.75" fill="#2e429c"/>
<circle cx="158" cy="270.4" r="1.75" fill="#9cbc34"/>
<circle cx="161.5" cy="269.5" r="1.75" fill="#9cbc34"/>
<circle cx="166.7" cy="269.5" r="1.75" fill="#c62222"/>
<circle cx="168.9" cy="268.2" r="1.75" fill="#c62222"/>
<circle cx="172.8" cy="270.4" r="1.75" fill="#c62222"/>
<circle cx="173.7" cy="267.7" r="1.75" fill="#c62222"/>
<circle cx="165" cy="271.2" r="1.75" fill="#aaa22a"/>
<circle cx="130.9" cy="272.6" r="1.75" fill="#2e429c"/>
<circle cx="136.1" cy="274.3" r="1.75" fill="#9cbc34"/>
<circle cx="139.6" cy="273.4" r="1.75" fill="#9cbc34"/>
<circle cx="142.7" cy="271.2" r="1.75" fill="#aaa22a"/>
<circle cx="143.1" cy="273.9" r="1.75" fill="#aaa22a"/>
<circle cx="145.7" cy="272.6" r="1.75" fill="#c62222"/>
<circle cx="148.4" cy="273.9" r="1.75" fill="#c62222"/>
<circle cx="154.9" cy="273.4" r="1.75" fill="#c62222"/>
<circle cx="151" cy="274.3" r="1.75" fill="#9cbc34"/>
<circle cx="158" cy="274.7" r="1.75" fill="#9cbc34"/>
<circle cx="162.3" cy="273.4" r="1.75" fill="#9cbc34"/>
<circle cx="165" cy="273.9" r="1.75" fill="#9cbc34"/>
<circle cx="172.8" cy="273.4" r="1.75" fill="#9cbc34"/>
<circle cx="168.5" cy="275.2" r="1.75" fill="#2e429c"/>
<circle cx="131.7" cy="277.4" r="1.75" fill="#9cbc34"/>
<circle cx="137.9" cy="277.4" r="1.75" fill="#9cbc34"/>
<circle cx="140.5" cy="277.4" r="1.75" fill="#2e429c"/>
<circle cx="151.4" cy="276.9" r="1.75" fill="#d08a28"/>
<circle cx="163.2" cy="276.9" r="1.75" fill="#d08a28"/>
<circle cx="158.8" cy="277.4" r="1.75" fill="#aaa22a"/>
<circle cx="160.2" cy="278.7" r="1.75" fill="#aaa22a"/>
<circle cx="165.8" cy="277.4" r="1.75" fill="#c62222"/>
<circle cx="147.5" cy="279.1" r="1.75" fill="#62a040"/>
<circle cx="154.5" cy="280" r="1.75" fill="#d08a28"/>
<circle cx="158" cy="282.6" r="1.75" fill="#2e429c"/>
<circle cx="154.9" cy="282.6" r="1.75" fill="#5c3c8a"/>
<circle cx="150.1" cy="282.2" r="1.75" fill="#9cbc34"/>
<circle cx="148.8" cy="284.4" r="1.75" fill="#9cbc34"/>
<circle cx="151" cy="284.8" r="1.75" fill="#9cbc34"/>
<circle cx="130.9" cy="280" r="1.75" fill="#62a040"/>
<circle cx="131.7" cy="282.6" r="1.75" fill="#9cbc34"/>
<circle cx="138.7" cy="281.7" r="1.75" fill="#9cbc34"/>
<circle cx="166.7" cy="280" r="1.75" fill="#c62222"/>
<circle cx="173.7" cy="280.9" r="1.75" fill="#c62222"/>
<circle cx="172" cy="283" r="1.75" fill="#c62222"/>
<circle cx="161.5" cy="283.5" r="1.75" fill="#9cbc34"/>
<circle cx="163.2" cy="285.2" r="1.75" fill="#9cbc34"/>
<circle cx="158" cy="285.7" r="1.75" fill="#62a040"/>
<circle cx="172.8" cy="285.2" r="1.75" fill="#c62222"/>
<circle cx="171.1" cy="287" r="1.75" fill="#c62222"/>
<circle cx="167.6" cy="287" r="1.75" fill="#c62222"/>
<circle cx="168.9" cy="288.3" r="1.75" fill="#c62222"/>
<circle cx="149.7" cy="287" r="1.75" fill="#aaa22a"/>
<circle cx="148.4" cy="291.3" r="1.75" fill="#c62222"/>
<circle cx="149.2" cy="292.7" r="1.75" fill="#c62222"/>
<circle cx="144.4" cy="294.4" r="1.75" fill="#d08a28"/>
<circle cx="152.7" cy="295.7" r="1.75" fill="#9cbc34"/>
<circle cx="158.8" cy="296.2" r="1.75" fill="#c62222"/>
<circle cx="161" cy="296.6" r="1.75" fill="#d08a28"/>
<circle cx="159.3" cy="298.8" r="1.75" fill="#c62222"/>
<circle cx="165.4" cy="293.5" r="1.75" fill="#62a040"/>
<circle cx="169.8" cy="292.2" r="1.75" fill="#62a040"/>
<circle cx="168.5" cy="300.1" r="1.75" fill="#c62222"/>
<circle cx="170.6" cy="298.3" r="1.75" fill="#c62222"/>
<circle cx="172.8" cy="297" r="1.75" fill="#c62222"/>
<circle cx="133.9" cy="296.2" r="1.75" fill="#62a040"/>
<circle cx="134.8" cy="299.2" r="1.75" fill="#9cbc34"/>
<circle cx="141.4" cy="302.3" r="1.75" fill="#c62222"/>
<circle cx="155.3" cy="302.7" r="1.75" fill="#c62222"/>
<circle cx="170.2" cy="304.5" r="1.75" fill="#5c3c8a"/>
<circle cx="172.6" cy="267.3" r="1.75" fill="#c62222"/>
<circle cx="175.2" cy="268.6" r="1.75" fill="#c62222"/>
<circle cx="178.7" cy="267.7" r="1.75" fill="#c62222"/>
<circle cx="173.5" cy="270.8" r="1.75" fill="#c62222"/>
<circle cx="183.1" cy="267.7" r="1.75" fill="#c62222"/>
<circle cx="187.5" cy="267.3" r="1.75" fill="#c62222"/>
<circle cx="190.1" cy="269.1" r="1.75" fill="#c62222"/>
<circle cx="177.9" cy="271.2" r="1.75" fill="#9cbc34"/>
<circle cx="180.5" cy="272.6" r="1.75" fill="#9cbc34"/>
<circle cx="173.5" cy="274.3" r="1.75" fill="#9cbc34"/>
<circle cx="170.9" cy="273" r="1.75" fill="#9cbc34"/>
<circle cx="185.7" cy="272.1" r="1.75" fill="#d08a28"/>
<circle cx="192.3" cy="271.7" r="1.75" fill="#c62222"/>
<circle cx="196.2" cy="270.8" r="1.75" fill="#c62222"/>
<circle cx="201.5" cy="266.4" r="1.75" fill="#c62222"/>
<circle cx="207.6" cy="269.1" r="1.75" fill="#c62222"/>
<circle cx="208.9" cy="272.1" r="1.75" fill="#c62222"/>
<circle cx="206.7" cy="273.9" r="1.75" fill="#c62222"/>
<circle cx="191.9" cy="274.7" r="1.75" fill="#c62222"/>
<circle cx="198.8" cy="276" r="1.75" fill="#c62222"/>
<circle cx="202.8" cy="275.2" r="1.75" fill="#c62222"/>
<circle cx="200.6" cy="278.2" r="1.75" fill="#c62222"/>
<circle cx="184" cy="276" r="1.75" fill="#c62222"/>
<circle cx="181.4" cy="278.2" r="1.75" fill="#c62222"/>
<circle cx="184" cy="279.1" r="1.75" fill="#c62222"/>
<circle cx="187.5" cy="279.1" r="1.75" fill="#c62222"/>
<circle cx="189.7" cy="280" r="1.75" fill="#c62222"/>
<circle cx="191" cy="281.3" r="1.75" fill="#c62222"/>
<circle cx="176.6" cy="279.1" r="1.75" fill="#c62222"/>
<circle cx="198" cy="281.3" r="1.75" fill="#c62222"/>
<circle cx="200.6" cy="283" r="1.75" fill="#c62222"/>
<circle cx="172.6" cy="281.7" r="1.75" fill="#c62222"/>
<circle cx="172.6" cy="284.4" r="1.75" fill="#c62222"/>
<circle cx="177.4" cy="283.9" r="1.75" fill="#c62222"/>
<circle cx="179.6" cy="285.7" r="1.75" fill="#c62222"/>
<circle cx="182.7" cy="285.2" r="1.75" fill="#c62222"/>
<circle cx="186.6" cy="284.4" r="1.75" fill="#c62222"/>
<circle cx="184.4" cy="284.4" r="1.75" fill="#d08a28"/>
<circle cx="191.9" cy="286.1" r="1.75" fill="#c62222"/>
<circle cx="195.3" cy="285.2" r="1.75" fill="#c62222"/>
<circle cx="171.7" cy="287" r="1.75" fill="#c62222"/>
<circle cx="205" cy="287" r="1.75" fill="#c62222"/>
<circle cx="209.8" cy="286.5" r="1.75" fill="#c62222"/>
<circle cx="212" cy="288.7" r="1.75" fill="#c62222"/>
<circle cx="208" cy="290.9" r="1.75" fill="#c62222"/>
<circle cx="187" cy="289.6" r="1.75" fill="#c62222"/>
<circle cx="180.5" cy="295.3" r="1.75" fill="#c62222"/>
<circle cx="184.4" cy="294" r="1.75" fill="#c62222"/>
<circle cx="189.2" cy="294" r="1.75" fill="#c62222"/>
<circle cx="193.2" cy="295.7" r="1.75" fill="#c62222"/>
<circle cx="171.7" cy="297.5" r="1.75" fill="#c62222"/>
<circle cx="198.8" cy="298.3" r="1.75" fill="#c62222"/>
<circle cx="203.2" cy="299.2" r="1.75" fill="#c62222"/>
<circle cx="178.7" cy="301.4" r="1.75" fill="#62a040"/>
<circle cx="184.4" cy="304.5" r="1.75" fill="#c62222"/>
<circle cx="192.7" cy="303.6" r="1.75" fill="#c62222"/>
<circle cx="170.9" cy="292.2" r="1.75" fill="#62a040"/>
<circle cx="217.6" cy="278.2" r="1.75" fill="#c62222"/>
<circle cx="222.9" cy="281.8" r="1.75" fill="#c62222"/>
<circle cx="122.3" cy="307.2" r="1.75" fill="#9cbc34"/>
<circle cx="185.4" cy="311.5" r="1.75" fill="#c62222"/>
<circle cx="147.7" cy="265" r="1.75" fill="#9cbc34"/>
<circle cx="153.8" cy="263.5" r="1.75" fill="#aaa22a"/>
<circle cx="156.2" cy="261.9" r="1.75" fill="#9cbc34"/>
<circle cx="162.3" cy="264.2" r="1.75" fill="#62a040"/>
<circle cx="163.1" cy="259.6" r="1.75" fill="#c62222"/>
<circle cx="173.8" cy="264.2" r="1.75" fill="#c62222"/>
<circle cx="176.2" cy="267.3" r="1.75" fill="#d08a28"/>
<circle cx="172.3" cy="269.6" r="1.75" fill="#d08a28"/>
<circle cx="143.1" cy="269.6" r="1.75" fill="#aaa22a"/>
<circle cx="142.3" cy="272.7" r="1.75" fill="#aaa22a"/>
<circle cx="151.5" cy="276.5" r="1.75" fill="#aaa22a"/>
<circle cx="158.5" cy="277.3" r="1.75" fill="#9cbc34"/>
<circle cx="163.1" cy="277.3" r="1.75" fill="#d08a28"/>
<circle cx="147.7" cy="279.6" r="1.75" fill="#62a040"/>
<circle cx="155.4" cy="278.1" r="1.75" fill="#aaa22a"/>
<circle cx="172.3" cy="275" r="1.75" fill="#9cbc34"/>
<circle cx="176.9" cy="272.7" r="1.75" fill="#9cbc34"/>
<circle cx="167.7" cy="278.1" r="1.75" fill="#d08a28"/>
<circle cx="173.8" cy="280.4" r="1.75" fill="#c62222"/>
<circle cx="300.8" cy="260.1" r="1.75" fill="#d08a28"/>
<circle cx="324.2" cy="253.3" r="1.75" fill="#9cbc34"/>
<circle cx="311.3" cy="280.8" r="1.75" fill="#9cbc34"/>
<circle cx="350.6" cy="284.1" r="1.75" fill="#62a040"/>
<circle cx="354.6" cy="253.5" r="1.75" fill="#d08a28"/>
<circle cx="355.2" cy="269.7" r="1.75" fill="#d08a28"/>
<circle cx="330.7" cy="315.7" r="1.75" fill="#d08a28"/>
<circle cx="321.1" cy="345.6" r="1.75" fill="#62a040"/>
<circle cx="338.2" cy="347.8" r="1.75" fill="#5c3c8a"/>
<circle cx="365.3" cy="370.2" r="1.75" fill="#62a040"/>
<circle cx="357.9" cy="389.4" r="1.75" fill="#c62222"/>
<circle cx="380.2" cy="268.5" r="1.75" fill="#2e429c"/>
<circle cx="377.6" cy="272.3" r="1.75" fill="#aaa22a"/>
<circle cx="384.3" cy="272.6" r="1.75" fill="#9cbc34"/>
<circle cx="382.3" cy="276.9" r="1.75" fill="#9cbc34"/>
<circle cx="383.6" cy="278.2" r="1.75" fill="#62a040"/>
<circle cx="375.7" cy="276.9" r="1.75" fill="#2e429c"/>
<circle cx="366.3" cy="279.8" r="1.75" fill="#2e429c"/>
<circle cx="373.5" cy="283.3" r="1.75" fill="#2e429c"/>
<circle cx="364.4" cy="286.1" r="1.75" fill="#9cbc34"/>
<circle cx="367" cy="287.4" r="1.75" fill="#9cbc34"/>
<circle cx="381.4" cy="285.7" r="1.75" fill="#9cbc34"/>
<circle cx="381.8" cy="287.4" r="1.75" fill="#9cbc34"/>
<circle cx="388" cy="286.5" r="1.75" fill="#62a040"/>
<circle cx="389.7" cy="278.2" r="1.75" fill="#d08a28"/>
<circle cx="386.2" cy="290.9" r="1.75" fill="#d08a28"/>
<circle cx="389.7" cy="294.8" r="1.75" fill="#62a040"/>
<circle cx="386.6" cy="301.4" r="1.75" fill="#c62222"/>
<circle cx="364.8" cy="302.7" r="1.75" fill="#62a040"/>
<circle cx="381" cy="303.6" r="1.75" fill="#aaa22a"/>
<circle cx="418.5" cy="239.7" r="1.75" fill="#9cbc34"/>
<circle cx="405.9" cy="254.2" r="1.75" fill="#9cbc34"/>
<circle cx="402.6" cy="257" r="1.75" fill="#9cbc34"/>
<circle cx="411.5" cy="256.5" r="1.75" fill="#d08a28"/>
<circle cx="419.7" cy="263.8" r="1.75" fill="#d08a28"/>
<circle cx="413.8" cy="266.4" r="1.75" fill="#2e429c"/>
<circle cx="417.9" cy="266.8" r="1.75" fill="#9cbc34"/>
<circle cx="419.2" cy="267.7" r="1.75" fill="#9cbc34"/>
<circle cx="421.8" cy="269" r="1.75" fill="#c62222"/>
<circle cx="425.8" cy="269" r="1.75" fill="#9cbc34"/>
<circle cx="403" cy="269.5" r="1.75" fill="#aaa22a"/>
<circle cx="410.3" cy="268.8" r="1.75" fill="#9cbc34"/>
<circle cx="430.6" cy="266.8" r="1.75" fill="#d08a28"/>
<circle cx="434.1" cy="248.9" r="1.75" fill="#c62222"/>
<circle cx="456.4" cy="256.3" r="1.75" fill="#c62222"/>
<circle cx="438.7" cy="261.2" r="1.75" fill="#9cbc34"/>
<circle cx="453.8" cy="265.1" r="1.75" fill="#9cbc34"/>
<circle cx="432.1" cy="266.8" r="1.75" fill="#d08a28"/>
<circle cx="435.4" cy="266.7" r="1.75" fill="#2e429c"/>
<circle cx="426.4" cy="269.5" r="1.75" fill="#9cbc34"/>
<circle cx="476.5" cy="275.6" r="1.75" fill="#c62222"/>
<circle cx="474.9" cy="277.5" r="1.75" fill="#c62222"/>
<circle cx="466.7" cy="276.6" r="1.75" fill="#c62222"/>
<circle cx="471" cy="282.4" r="1.75" fill="#c62222"/>
<circle cx="468.4" cy="288.4" r="1.75" fill="#c62222"/>
<circle cx="475.4" cy="288.4" r="1.75" fill="#c62222"/>
<circle cx="414" cy="270.8" r="1.75" fill="#2e429c"/>
<circle cx="403.5" cy="272.1" r="1.75" fill="#aaa22a"/>
<circle cx="420.1" cy="271.7" r="1.75" fill="#9cbc34"/>
<circle cx="423.6" cy="272.1" r="1.75" fill="#9cbc34"/>
<circle cx="393.4" cy="273.4" r="1.75" fill="#2e429c"/>
<circle cx="397.8" cy="273.9" r="1.75" fill="#2e429c"/>
<circle cx="400" cy="275.2" r="1.75" fill="#2e429c"/>
<circle cx="406.5" cy="274.3" r="1.75" fill="#d08a28"/>
<circle cx="404.8" cy="276" r="1.75" fill="#9cbc34"/>
<circle cx="409.2" cy="275.2" r="1.75" fill="#9cbc34"/>
<circle cx="412.7" cy="275.6" r="1.75" fill="#c62222"/>
<circle cx="417.5" cy="274.7" r="1.75" fill="#c62222"/>
<circle cx="421.8" cy="274.7" r="1.75" fill="#9cbc34"/>
<circle cx="424.9" cy="274.3" r="1.75" fill="#9cbc34"/>
<circle cx="428.8" cy="274.7" r="1.75" fill="#9cbc34"/>
<circle cx="389.9" cy="277.4" r="1.75" fill="#d08a28"/>
<circle cx="390.4" cy="280" r="1.75" fill="#d08a28"/>
<circle cx="400.9" cy="278.2" r="1.75" fill="#d08a28"/>
<circle cx="410.5" cy="277.8" r="1.75" fill="#d08a28"/>
<circle cx="414" cy="277.4" r="1.75" fill="#9cbc34"/>
<circle cx="416.2" cy="279.1" r="1.75" fill="#9cbc34"/>
<circle cx="419.2" cy="278.2" r="1.75" fill="#9cbc34"/>
<circle cx="423.6" cy="279.1" r="1.75" fill="#9cbc34"/>
<circle cx="426.2" cy="278.2" r="1.75" fill="#9cbc34"/>
<circle cx="429.7" cy="277.4" r="1.75" fill="#9cbc34"/>
<circle cx="407" cy="280.9" r="1.75" fill="#9cbc34"/>
<circle cx="413.1" cy="280.9" r="1.75" fill="#9cbc34"/>
<circle cx="417.5" cy="281.7" r="1.75" fill="#9cbc34"/>
<circle cx="421.4" cy="281.7" r="1.75" fill="#2e429c"/>
<circle cx="425.3" cy="281.7" r="1.75" fill="#9cbc34"/>
<circle cx="428.8" cy="281.3" r="1.75" fill="#9cbc34"/>
<circle cx="411.3" cy="283" r="1.75" fill="#2e429c"/>
<circle cx="413.1" cy="283.9" r="1.75" fill="#c62222"/>
<circle cx="397.8" cy="284.4" r="1.75" fill="#62a040"/>
<circle cx="403.9" cy="284.8" r="1.75" fill="#aaa22a"/>
<circle cx="404.8" cy="286.5" r="1.75" fill="#aaa22a"/>
<circle cx="388.2" cy="284.8" r="1.75" fill="#62a040"/>
<circle cx="389.5" cy="286.5" r="1.75" fill="#9cbc34"/>
<circle cx="387.3" cy="287.9" r="1.75" fill="#62a040"/>
<circle cx="407" cy="287.4" r="1.75" fill="#2e429c"/>
<circle cx="408.7" cy="285.2" r="1.75" fill="#9cbc34"/>
<circle cx="410.9" cy="287" r="1.75" fill="#9cbc34"/>
<circle cx="420.5" cy="287" r="1.75" fill="#2e429c"/>
<circle cx="418.3" cy="286.1" r="1.75" fill="#9cbc34"/>
<circle cx="416.6" cy="287.9" r="1.75" fill="#9cbc34"/>
<circle cx="424.5" cy="289.2" r="1.75" fill="#2e429c"/>
<circle cx="428" cy="284.8" r="1.75" fill="#9cbc34"/>
<circle cx="429.7" cy="287" r="1.75" fill="#9cbc34"/>
<circle cx="393.9" cy="290.5" r="1.75" fill="#9cbc34"/>
<circle cx="396.5" cy="291.3" r="1.75" fill="#9cbc34"/>
<circle cx="400.9" cy="290" r="1.75" fill="#2e429c"/>
<circle cx="404.8" cy="290.5" r="1.75" fill="#9cbc34"/>
<circle cx="407" cy="291.3" r="1.75" fill="#9cbc34"/>
<circle cx="409.2" cy="291.8" r="1.75" fill="#c62222"/>
<circle cx="417.5" cy="291.3" r="1.75" fill="#d08a28"/>
<circle cx="420.1" cy="292.2" r="1.75" fill="#d08a28"/>
<circle cx="422.3" cy="294" r="1.75" fill="#c62222"/>
<circle cx="427.1" cy="291.3" r="1.75" fill="#9cbc34"/>
<circle cx="429.7" cy="292.2" r="1.75" fill="#9cbc34"/>
<circle cx="390.8" cy="295.3" r="1.75" fill="#62a040"/>
<circle cx="393.4" cy="296.2" r="1.75" fill="#9cbc34"/>
<circle cx="398.7" cy="294.8" r="1.75" fill="#62a040"/>
<circle cx="401.3" cy="296.2" r="1.75" fill="#9cbc34"/>
<circle cx="407" cy="294.8" r="1.75" fill="#d08a28"/>
<circle cx="416.6" cy="294" r="1.75" fill="#9cbc34"/>
<circle cx="427.1" cy="294.8" r="1.75" fill="#c62222"/>
<circle cx="401.3" cy="299.7" r="1.75" fill="#62a040"/>
<circle cx="406.1" cy="299.2" r="1.75" fill="#9cbc34"/>
<circle cx="392.1" cy="298.3" r="1.75" fill="#62a040"/>
<circle cx="394.7" cy="297.5" r="1.75" fill="#9cbc34"/>
<circle cx="424.5" cy="297.5" r="1.75" fill="#9cbc34"/>
<circle cx="421" cy="299.2" r="1.75" fill="#c62222"/>
<circle cx="419.2" cy="302.7" r="1.75" fill="#c62222"/>
<circle cx="427.1" cy="299.7" r="1.75" fill="#c62222"/>
<circle cx="429.3" cy="301.8" r="1.75" fill="#c62222"/>
<circle cx="391.2" cy="301.4" r="1.75" fill="#62a040"/>
<circle cx="408.7" cy="303.2" r="1.75" fill="#9cbc34"/>
<circle cx="400.4" cy="302.3" r="1.75" fill="#62a040"/>
<circle cx="423.6" cy="304.5" r="1.75" fill="#c62222"/>
<circle cx="426.2" cy="304.5" r="1.75" fill="#c62222"/>
<circle cx="433" cy="266.9" r="1.75" fill="#d08a28"/>
<circle cx="426.9" cy="271.5" r="1.75" fill="#9cbc34"/>
<circle cx="431.2" cy="271.2" r="1.75" fill="#9cbc34"/>
<circle cx="436.5" cy="273" r="1.75" fill="#c62222"/>
<circle cx="446.5" cy="273.4" r="1.75" fill="#c62222"/>
<circle cx="432.6" cy="273.9" r="1.75" fill="#9cbc34"/>
<circle cx="458.3" cy="274.7" r="1.75" fill="#c62222"/>
<circle cx="461" cy="273.9" r="1.75" fill="#c62222"/>
<circle cx="463.6" cy="274.3" r="1.75" fill="#c62222"/>
<circle cx="466.2" cy="276.5" r="1.75" fill="#c62222"/>
<circle cx="435.6" cy="275.6" r="1.75" fill="#9cbc34"/>
<circle cx="436.9" cy="278.7" r="1.75" fill="#d08a28"/>
<circle cx="440.9" cy="277.8" r="1.75" fill="#d08a28"/>
<circle cx="444.8" cy="278.2" r="1.75" fill="#9cbc34"/>
<circle cx="447.4" cy="278.2" r="1.75" fill="#9cbc34"/>
<circle cx="450.5" cy="277.8" r="1.75" fill="#9cbc34"/>
<circle cx="431.2" cy="278.2" r="1.75" fill="#2e429c"/>
<circle cx="428.6" cy="279.5" r="1.75" fill="#9cbc34"/>
<circle cx="458.3" cy="277.4" r="1.75" fill="#c62222"/>
<circle cx="440" cy="283" r="1.75" fill="#c62222"/>
<circle cx="454.8" cy="282.2" r="1.75" fill="#c62222"/>
<circle cx="457.5" cy="282.6" r="1.75" fill="#c62222"/>
<circle cx="460.5" cy="283" r="1.75" fill="#c62222"/>
<circle cx="470.1" cy="282.2" r="1.75" fill="#c62222"/>
<circle cx="430.4" cy="282.6" r="1.75" fill="#9cbc34"/>
<circle cx="427.7" cy="283.9" r="1.75" fill="#9cbc34"/>
<circle cx="433" cy="281.7" r="1.75" fill="#9cbc34"/>
<circle cx="436.5" cy="286.5" r="1.75" fill="#2e429c"/>
<circle cx="434.3" cy="285.2" r="1.75" fill="#c62222"/>
<circle cx="426.9" cy="286.1" r="1.75" fill="#aaa22a"/>
<circle cx="429.9" cy="287.4" r="1.75" fill="#aaa22a"/>
<circle cx="442.6" cy="287.4" r="1.75" fill="#9cbc34"/>
<circle cx="448.3" cy="284.8" r="1.75" fill="#c62222"/>
<circle cx="449.6" cy="287" r="1.75" fill="#c62222"/>
<circle cx="452.2" cy="286.5" r="1.75" fill="#d08a28"/>
<circle cx="456.2" cy="285.7" r="1.75" fill="#c62222"/>
<circle cx="454.8" cy="288.3" r="1.75" fill="#c62222"/>
<circle cx="462.7" cy="287" r="1.75" fill="#c62222"/>
<circle cx="464.9" cy="286.1" r="1.75" fill="#c62222"/>
<circle cx="461" cy="289.2" r="1.75" fill="#c62222"/>
<circle cx="468" cy="288.3" r="1.75" fill="#c62222"/>
<circle cx="431.2" cy="289.6" r="1.75" fill="#d08a28"/>
<circle cx="428.6" cy="288.7" r="1.75" fill="#d08a28"/>
<circle cx="441.7" cy="289.6" r="1.75" fill="#c62222"/>
<circle cx="443" cy="291.3" r="1.75" fill="#c62222"/>
<circle cx="447" cy="290" r="1.75" fill="#9cbc34"/>
<circle cx="449.6" cy="291.3" r="1.75" fill="#9cbc34"/>
<circle cx="458.8" cy="290.9" r="1.75" fill="#62a040"/>
<circle cx="440" cy="292.2" r="1.75" fill="#d08a28"/>
<circle cx="446.1" cy="294" r="1.75" fill="#c62222"/>
<circle cx="435.6" cy="294" r="1.75" fill="#c62222"/>
<circle cx="433" cy="296.2" r="1.75" fill="#c62222"/>
<circle cx="442.6" cy="296.6" r="1.75" fill="#c62222"/>
<circle cx="463.6" cy="293.1" r="1.75" fill="#c62222"/>
<circle cx="467.1" cy="292.2" r="1.75" fill="#c62222"/>
<circle cx="469.7" cy="294" r="1.75" fill="#c62222"/>
<circle cx="458.3" cy="295.7" r="1.75" fill="#c62222"/>
<circle cx="427.7" cy="292.2" r="1.75" fill="#9cbc34"/>
<circle cx="429.9" cy="294.8" r="1.75" fill="#9cbc34"/>
<circle cx="439.1" cy="294.8" r="1.75" fill="#9cbc34"/>
<circle cx="426.9" cy="299.2" r="1.75" fill="#c62222"/>
<circle cx="429.9" cy="301" r="1.75" fill="#c62222"/>
<circle cx="431.2" cy="303.6" r="1.75" fill="#c62222"/>
<circle cx="434.7" cy="301" r="1.75" fill="#9cbc34"/>
<circle cx="437.4" cy="302.7" r="1.75" fill="#9cbc34"/>
<circle cx="441.7" cy="302.7" r="1.75" fill="#c62222"/>
<circle cx="443.5" cy="304.5" r="1.75" fill="#c62222"/>
<circle cx="447" cy="301" r="1.75" fill="#c62222"/>
<circle cx="449.6" cy="299.2" r="1.75" fill="#c62222"/>
<circle cx="452.2" cy="300.1" r="1.75" fill="#c62222"/>
<circle cx="448.7" cy="303.6" r="1.75" fill="#c62222"/>
<circle cx="455.7" cy="299.7" r="1.75" fill="#5c3c8a"/>
<circle cx="454.8" cy="301.8" r="1.75" fill="#62a040"/>
<circle cx="462.7" cy="300.5" r="1.75" fill="#c62222"/>
<circle cx="462.7" cy="303.6" r="1.75" fill="#c62222"/>
<circle cx="468" cy="297.5" r="1.75" fill="#c62222"/>
<circle cx="470.1" cy="299.7" r="1.75" fill="#c62222"/>
<circle cx="457.5" cy="304.5" r="1.75" fill="#c62222"/>
<circle cx="468.6" cy="288" r="1.75" fill="#c62222"/>
<circle cx="475.2" cy="288.6" r="1.75" fill="#c62222"/>
<circle cx="467.3" cy="292.6" r="1.75" fill="#c62222"/>
<circle cx="470.6" cy="295.2" r="1.75" fill="#c62222"/>
<circle cx="473.2" cy="291.9" r="1.75" fill="#c62222"/>
<circle cx="477.5" cy="293.2" r="1.75" fill="#c62222"/>
<circle cx="473.2" cy="307.2" r="1.75" fill="#c62222"/>
<circle cx="485" cy="308.5" r="1.75" fill="#c62222"/>
<circle cx="466.7" cy="309.3" r="1.75" fill="#c62222"/>
<circle cx="468" cy="314.2" r="1.75" fill="#c62222"/>
<circle cx="469.7" cy="313.5" r="1.75" fill="#c62222"/>
<circle cx="475.4" cy="317.5" r="1.75" fill="#c62222"/>
<circle cx="479.1" cy="319.8" r="1.75" fill="#c62222"/>
<circle cx="472.6" cy="321.6" r="1.75" fill="#c62222"/>
<circle cx="466.7" cy="328.6" r="1.75" fill="#c62222"/>
<circle cx="468" cy="330.6" r="1.75" fill="#c62222"/>
<circle cx="380.8" cy="303.3" r="1.75" fill="#aaa22a"/>
<circle cx="401.4" cy="301.5" r="1.75" fill="#9cbc34"/>
<circle cx="408.8" cy="302.9" r="1.75" fill="#9cbc34"/>
<circle cx="390.8" cy="306.3" r="1.75" fill="#d08a28"/>
<circle cx="394.5" cy="308.2" r="1.75" fill="#62a040"/>
<circle cx="397.2" cy="308.4" r="1.75" fill="#62a040"/>
<circle cx="376.5" cy="312.1" r="1.75" fill="#5c3c8a"/>
<circle cx="402.5" cy="313.5" r="1.75" fill="#9cbc34"/>
<circle cx="404.6" cy="313.2" r="1.75" fill="#9cbc34"/>
<circle cx="414.1" cy="308.4" r="1.75" fill="#62a040"/>
<circle cx="414.6" cy="311.1" r="1.75" fill="#aaa22a"/>
<circle cx="417.3" cy="311.6" r="1.75" fill="#9cbc34"/>
<circle cx="415.4" cy="313.5" r="1.75" fill="#c62222"/>
<circle cx="418.9" cy="303.1" r="1.75" fill="#c62222"/>
<circle cx="420.4" cy="305.8" r="1.75" fill="#c62222"/>
<circle cx="425.2" cy="307.3" r="1.75" fill="#9cbc34"/>
<circle cx="427.9" cy="308.9" r="1.75" fill="#62a040"/>
<circle cx="426.8" cy="305.2" r="1.75" fill="#c62222"/>
<circle cx="430" cy="305.8" r="1.75" fill="#c62222"/>
<circle cx="422" cy="316.9" r="1.75" fill="#c62222"/>
<circle cx="427.9" cy="317.1" r="1.75" fill="#c62222"/>
<circle cx="415.2" cy="320.3" r="1.75" fill="#c62222"/>
<circle cx="422.3" cy="323.2" r="1.75" fill="#c62222"/>
<circle cx="406.2" cy="326.1" r="1.75" fill="#62a040"/>
<circle cx="387.6" cy="334.7" r="1.75" fill="#5c3c8a"/>
<circle cx="403.5" cy="336.8" r="1.75" fill="#c62222"/>
<circle cx="422" cy="334.7" r="1.75" fill="#c62222"/>
<circle cx="424.7" cy="339.6" r="1.75" fill="#62a040"/>
<circle cx="429.2" cy="302.1" r="1.75" fill="#c62222"/>
<circle cx="430.2" cy="305.2" r="1.75" fill="#c62222"/>
<circle cx="438.7" cy="306.3" r="1.75" fill="#c62222"/>
<circle cx="441.3" cy="305.8" r="1.75" fill="#c62222"/>
<circle cx="442.9" cy="303.1" r="1.75" fill="#c62222"/>
<circle cx="447.2" cy="302.1" r="1.75" fill="#c62222"/>
<circle cx="450.3" cy="303.1" r="1.75" fill="#c62222"/>
<circle cx="451.4" cy="305.8" r="1.75" fill="#c62222"/>
<circle cx="456.7" cy="304.7" r="1.75" fill="#c62222"/>
<circle cx="459.3" cy="305.8" r="1.75" fill="#c62222"/>
<circle cx="462.5" cy="302.6" r="1.75" fill="#c62222"/>
<circle cx="466.2" cy="308.9" r="1.75" fill="#c62222"/>
<circle cx="473.1" cy="307.3" r="1.75" fill="#c62222"/>
<circle cx="427.6" cy="316.9" r="1.75" fill="#c62222"/>
<circle cx="433.4" cy="316.3" r="1.75" fill="#c62222"/>
<circle cx="438.7" cy="315.8" r="1.75" fill="#c62222"/>
<circle cx="439.8" cy="317.9" r="1.75" fill="#c62222"/>
<circle cx="441.9" cy="314.8" r="1.75" fill="#c62222"/>
<circle cx="451.9" cy="314.2" r="1.75" fill="#c62222"/>
<circle cx="454.6" cy="313.2" r="1.75" fill="#c62222"/>
<circle cx="457.7" cy="312.6" r="1.75" fill="#c62222"/>
<circle cx="459.9" cy="312.6" r="1.75" fill="#c62222"/>
<circle cx="467.8" cy="314.8" r="1.75" fill="#c62222"/>
<circle cx="469.4" cy="313.7" r="1.75" fill="#c62222"/>
<circle cx="453.5" cy="320.9" r="1.75" fill="#c62222"/>
<circle cx="472.6" cy="322.2" r="1.75" fill="#c62222"/>
<circle cx="475.7" cy="317.9" r="1.75" fill="#c62222"/>
<circle cx="478.9" cy="320" r="1.75" fill="#c62222"/>
<circle cx="445.6" cy="329.6" r="1.75" fill="#c62222"/>
<circle cx="450.9" cy="329" r="1.75" fill="#c62222"/>
<circle cx="453" cy="329.6" r="1.75" fill="#c62222"/>
<circle cx="455.6" cy="332.5" r="1.75" fill="#c62222"/>
<circle cx="459.3" cy="332.5" r="1.75" fill="#c62222"/>
<circle cx="466.2" cy="328" r="1.75" fill="#c62222"/>
<circle cx="467.3" cy="330.4" r="1.75" fill="#c62222"/>
<circle cx="435" cy="331.7" r="1.75" fill="#c62222"/>
<circle cx="439.8" cy="331.7" r="1.75" fill="#c62222"/>
<circle cx="436" cy="337.5" r="1.75" fill="#c62222"/>
<circle cx="437.1" cy="340.2" r="1.75" fill="#c62222"/>
<circle cx="447.7" cy="336.4" r="1.75" fill="#c62222"/>
<circle cx="452.5" cy="338" r="1.75" fill="#c62222"/>
<circle cx="451.9" cy="341" r="1.75" fill="#c62222"/>
<circle cx="392.2" cy="349.4" r="1.75" fill="#c62222"/>
<circle cx="417.8" cy="351.8" r="1.75" fill="#62a040"/>
<circle cx="424" cy="364.8" r="1.75" fill="#c62222"/>
<circle cx="437.5" cy="364" r="1.75" fill="#5c3c8a"/>
<circle cx="390.6" cy="373.7" r="1.75" fill="#62a040"/>
<circle cx="405.5" cy="374.5" r="1.75" fill="#c62222"/>
<circle cx="416.3" cy="373.7" r="1.75" fill="#c62222"/>
<circle cx="459.2" cy="347.5" r="1.75" fill="#c62222"/>
<circle cx="490" cy="346.5" r="1.75" fill="#c62222"/>
<circle cx="508.8" cy="351.8" r="1.75" fill="#62a040"/>
<circle cx="476.5" cy="352.6" r="1.75" fill="#c62222"/>
<circle cx="481.2" cy="357.2" r="1.75" fill="#c62222"/>
<circle cx="452.8" cy="377.2" r="1.75" fill="#c62222"/>
<circle cx="455.7" cy="380.3" r="1.75" fill="#c62222"/>
<circle cx="450" cy="384.5" r="1.75" fill="#c62222"/>
<circle cx="405.1" cy="374.6" r="1.75" fill="#c62222"/>
<circle cx="416.2" cy="373.5" r="1.75" fill="#c62222"/>
<circle cx="505.3" cy="399.6" r="1.75" fill="#c62222"/>
<circle cx="365.7" cy="316.2" r="1.75" fill="#aaa22a"/>
<circle cx="365.3" cy="402.5" r="1.75" fill="#5c3c8a"/>
<circle cx="342.3" cy="426.8" r="1.75" fill="#5c3c8a"/>
<circle cx="416.5" cy="283.1" r="1.75" fill="#9cbc34"/>
<circle cx="425" cy="283.8" r="1.75" fill="#9cbc34"/>
<circle cx="430.4" cy="284.6" r="1.75" fill="#aaa22a"/>
<circle cx="407.3" cy="290" r="1.75" fill="#d08a28"/>
<circle cx="417.3" cy="291.5" r="1.75" fill="#d08a28"/>
<circle cx="428.1" cy="291.5" r="1.75" fill="#9cbc34"/>
<circle cx="431.9" cy="289.2" r="1.75" fill="#aaa22a"/>
<circle cx="425" cy="295.4" r="1.75" fill="#9cbc34"/>
<circle cx="441.2" cy="290" r="1.75" fill="#c62222"/>
<circle cx="436.5" cy="297.7" r="1.75" fill="#c62222"/>
<circle cx="441.9" cy="301.5" r="1.75" fill="#9cbc34"/>
<circle cx="434.2" cy="302.3" r="1.75" fill="#9cbc34"/>
<circle cx="423.5" cy="300" r="1.75" fill="#62a040"/>
<circle cx="409.6" cy="294.6" r="1.75" fill="#d08a28"/>
<circle cx="405.8" cy="299.2" r="1.75" fill="#9cbc34"/>
<circle cx="414.2" cy="284.6" r="1.75" fill="#9cbc34"/>
<circle cx="410" cy="266" r="1.75" fill="#9cbc34"/>
<circle cx="428" cy="264" r="1.75" fill="#9cbc34"/>
<circle cx="438" cy="270" r="1.75" fill="#aaa22a"/>
<circle cx="445" cy="276" r="1.75" fill="#9cbc34"/>
</svg></body></html>
